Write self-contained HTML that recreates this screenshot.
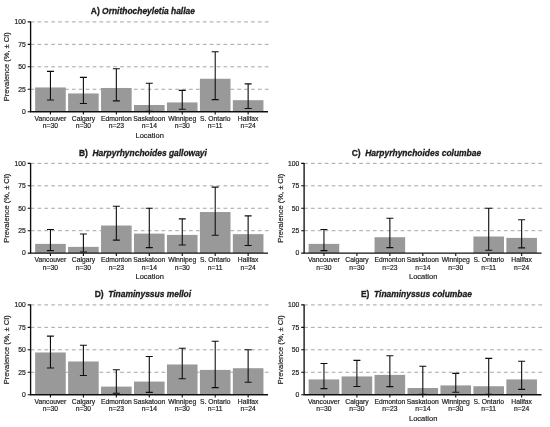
<!DOCTYPE html>
<html lang="en"><head><meta charset="utf-8"><title>Prevalence by location</title>
<style>html,body{margin:0;padding:0;background:#fff}body{width:550px;height:427px;overflow:hidden}svg{display:block}text{font-family:"Liberation Sans",Arial,sans-serif;fill:#1a1a1a;stroke:#1a1a1a;stroke-width:0.18px;paint-order:stroke}.m{stroke-width:0.3px}.t{font-size:6.75px;text-anchor:middle}.y{font-size:6.75px;text-anchor:end}.a{font-size:7.5px;text-anchor:middle}.m{font-size:8.45px;font-weight:bold;text-anchor:middle;white-space:pre}.m tspan{font-style:italic}</style></head><body>
<svg width="550" height="427" viewBox="0 0 550 427">
<rect width="550" height="427" fill="#ffffff"/>
<defs><filter id="b" x="0" y="0" width="550" height="427" filterUnits="userSpaceOnUse"><feGaussianBlur stdDeviation="0.3"/></filter></defs><g filter="url(#b)">
<g>
<line x1="30.60" y1="89.25" x2="268.80" y2="89.25" stroke="#a0a0a0" stroke-width="0.95" stroke-dasharray="3.7 3.19"/>
<line x1="30.60" y1="66.80" x2="268.80" y2="66.80" stroke="#a0a0a0" stroke-width="0.95" stroke-dasharray="3.7 3.19"/>
<line x1="30.60" y1="44.35" x2="268.80" y2="44.35" stroke="#a0a0a0" stroke-width="0.95" stroke-dasharray="3.7 3.19"/>
<line x1="30.60" y1="21.90" x2="268.80" y2="21.90" stroke="#a0a0a0" stroke-width="0.95" stroke-dasharray="3.7 3.19"/>
<rect x="35.15" y="87.45" width="30.60" height="24.25" fill="#999999"/>
<rect x="68.10" y="93.44" width="30.60" height="18.26" fill="#999999"/>
<rect x="101.05" y="87.97" width="30.60" height="23.73" fill="#999999"/>
<rect x="134.00" y="104.99" width="30.60" height="6.71" fill="#999999"/>
<rect x="166.95" y="102.42" width="30.60" height="9.28" fill="#999999"/>
<rect x="199.90" y="78.75" width="30.60" height="32.95" fill="#999999"/>
<rect x="232.85" y="100.18" width="30.60" height="11.53" fill="#999999"/>
<path d="M46.95 71.38H53.95M46.95 99.94H53.95M50.45 71.38V99.94" stroke="#111111" stroke-width="1.1" fill="none"/>
<path d="M79.90 77.40H86.90M79.90 103.53H86.90M83.40 77.40V103.53" stroke="#111111" stroke-width="1.1" fill="none"/>
<path d="M112.85 68.78H119.85M112.85 100.92H119.85M116.35 68.78V100.92" stroke="#111111" stroke-width="1.1" fill="none"/>
<path d="M145.80 83.23H152.80M145.80 111.34H152.80M149.30 83.23V111.34" stroke="#111111" stroke-width="1.1" fill="none"/>
<path d="M178.75 90.42H185.75M178.75 109.19H185.75M182.25 90.42V109.19" stroke="#111111" stroke-width="1.1" fill="none"/>
<path d="M211.70 51.80H218.70M211.70 99.58H218.70M215.20 51.80V99.58" stroke="#111111" stroke-width="1.1" fill="none"/>
<path d="M244.65 83.86H251.65M244.65 108.56H251.65M248.15 83.86V108.56" stroke="#111111" stroke-width="1.1" fill="none"/>
<path d="M30.60 21.50V111.70H268.00" stroke="#111111" stroke-width="1.35" fill="none" stroke-linejoin="miter"/>
<path d="M27.70 111.70H30.60M27.70 89.25H30.60M27.70 66.80H30.60M27.70 44.35H30.60M27.70 21.90H30.60M50.45 111.70V114.60M83.40 111.70V114.60M116.35 111.70V114.60M149.30 111.70V114.60M182.25 111.70V114.60M215.20 111.70V114.60M248.15 111.70V114.60" stroke="#111111" stroke-width="1.1" fill="none"/>
<text class="y" x="25.65" y="114.00">0</text>
<text class="y" x="25.65" y="91.55">25</text>
<text class="y" x="25.65" y="69.10">50</text>
<text class="y" x="25.65" y="46.65">75</text>
<text class="y" x="25.65" y="24.20">100</text>
<text class="t" x="50.45" y="120.75">Vancouver</text>
<text class="t" x="50.45" y="128.15">n=30</text>
<text class="t" x="83.40" y="120.75">Calgary</text>
<text class="t" x="83.40" y="128.15">n=30</text>
<text class="t" x="116.35" y="120.75">Edmonton</text>
<text class="t" x="116.35" y="128.15">n=23</text>
<text class="t" x="149.30" y="120.75">Saskatoon</text>
<text class="t" x="149.30" y="128.15">n=14</text>
<text class="t" x="182.25" y="120.75">Winnipeg</text>
<text class="t" x="182.25" y="128.15">n=30</text>
<text class="t" x="215.20" y="120.75">S. Ontario</text>
<text class="t" x="215.20" y="128.15">n=11</text>
<text class="t" x="248.15" y="120.75">Halifax</text>
<text class="t" x="248.15" y="128.15">n=24</text>
<text class="a" x="149.70" y="137.90">Location</text>
<text class="a" transform="translate(9.00 66.80) rotate(-90)">Prevalence (%, ± CI)</text>
<text class="m" x="142.90" y="14.30">A) <tspan>Ornithocheyletia hallae</tspan></text>
</g>
<g>
<line x1="30.60" y1="230.70" x2="268.80" y2="230.70" stroke="#a0a0a0" stroke-width="0.95" stroke-dasharray="3.7 3.19"/>
<line x1="30.60" y1="208.25" x2="268.80" y2="208.25" stroke="#a0a0a0" stroke-width="0.95" stroke-dasharray="3.7 3.19"/>
<line x1="30.60" y1="185.80" x2="268.80" y2="185.80" stroke="#a0a0a0" stroke-width="0.95" stroke-dasharray="3.7 3.19"/>
<line x1="30.60" y1="163.35" x2="268.80" y2="163.35" stroke="#a0a0a0" stroke-width="0.95" stroke-dasharray="3.7 3.19"/>
<rect x="35.15" y="243.87" width="30.60" height="9.28" fill="#999999"/>
<rect x="68.10" y="246.86" width="30.60" height="6.29" fill="#999999"/>
<rect x="101.05" y="225.52" width="30.60" height="27.63" fill="#999999"/>
<rect x="134.00" y="233.61" width="30.60" height="19.54" fill="#999999"/>
<rect x="166.95" y="234.89" width="30.60" height="18.26" fill="#999999"/>
<rect x="199.90" y="212.03" width="30.60" height="41.12" fill="#999999"/>
<rect x="232.85" y="234.14" width="30.60" height="19.01" fill="#999999"/>
<path d="M46.95 229.53H53.95M46.95 250.64H53.95M50.45 229.53V250.64" stroke="#111111" stroke-width="1.1" fill="none"/>
<path d="M79.90 234.02H86.90M79.90 252.07H86.90M83.40 234.02V252.07" stroke="#111111" stroke-width="1.1" fill="none"/>
<path d="M112.85 206.27H119.85M112.85 240.13H119.85M116.35 206.27V240.13" stroke="#111111" stroke-width="1.1" fill="none"/>
<path d="M145.80 208.25H152.80M145.80 247.67H152.80M149.30 208.25V247.67" stroke="#111111" stroke-width="1.1" fill="none"/>
<path d="M178.75 218.85H185.75M178.75 244.98H185.75M182.25 218.85V244.98" stroke="#111111" stroke-width="1.1" fill="none"/>
<path d="M211.70 187.15H218.70M211.70 235.19H218.70M215.20 187.15V235.19" stroke="#111111" stroke-width="1.1" fill="none"/>
<path d="M244.65 215.88H251.65M244.65 245.43H251.65M248.15 215.88V245.43" stroke="#111111" stroke-width="1.1" fill="none"/>
<path d="M30.60 162.95V253.15H268.00" stroke="#111111" stroke-width="1.35" fill="none" stroke-linejoin="miter"/>
<path d="M27.70 253.15H30.60M27.70 230.70H30.60M27.70 208.25H30.60M27.70 185.80H30.60M27.70 163.35H30.60M50.45 253.15V256.05M83.40 253.15V256.05M116.35 253.15V256.05M149.30 253.15V256.05M182.25 253.15V256.05M215.20 253.15V256.05M248.15 253.15V256.05" stroke="#111111" stroke-width="1.1" fill="none"/>
<text class="y" x="25.65" y="255.45">0</text>
<text class="y" x="25.65" y="233.00">25</text>
<text class="y" x="25.65" y="210.55">50</text>
<text class="y" x="25.65" y="188.10">75</text>
<text class="y" x="25.65" y="165.65">100</text>
<text class="t" x="50.45" y="262.20">Vancouver</text>
<text class="t" x="50.45" y="269.60">n=30</text>
<text class="t" x="83.40" y="262.20">Calgary</text>
<text class="t" x="83.40" y="269.60">n=30</text>
<text class="t" x="116.35" y="262.20">Edmonton</text>
<text class="t" x="116.35" y="269.60">n=23</text>
<text class="t" x="149.30" y="262.20">Saskatoon</text>
<text class="t" x="149.30" y="269.60">n=14</text>
<text class="t" x="182.25" y="262.20">Winnipeg</text>
<text class="t" x="182.25" y="269.60">n=30</text>
<text class="t" x="215.20" y="262.20">S. Ontario</text>
<text class="t" x="215.20" y="269.60">n=11</text>
<text class="t" x="248.15" y="262.20">Halifax</text>
<text class="t" x="248.15" y="269.60">n=24</text>
<text class="a" x="149.70" y="279.35">Location</text>
<text class="a" transform="translate(9.00 208.25) rotate(-90)">Prevalence (%, ± CI)</text>
<text class="m" x="142.90" y="155.75">B)  <tspan>Harpyrhynchoides gallowayi</tspan></text>
</g>
<g>
<line x1="304.10" y1="230.70" x2="542.30" y2="230.70" stroke="#a0a0a0" stroke-width="0.95" stroke-dasharray="3.7 3.19"/>
<line x1="304.10" y1="208.25" x2="542.30" y2="208.25" stroke="#a0a0a0" stroke-width="0.95" stroke-dasharray="3.7 3.19"/>
<line x1="304.10" y1="185.80" x2="542.30" y2="185.80" stroke="#a0a0a0" stroke-width="0.95" stroke-dasharray="3.7 3.19"/>
<line x1="304.10" y1="163.35" x2="542.30" y2="163.35" stroke="#a0a0a0" stroke-width="0.95" stroke-dasharray="3.7 3.19"/>
<rect x="308.65" y="243.87" width="30.60" height="9.28" fill="#999999"/>
<rect x="374.55" y="237.23" width="30.60" height="15.92" fill="#999999"/>
<rect x="473.40" y="236.52" width="30.60" height="16.63" fill="#999999"/>
<rect x="506.35" y="237.88" width="30.60" height="15.27" fill="#999999"/>
<path d="M320.45 229.53H327.45M320.45 250.64H327.45M323.95 229.53V250.64" stroke="#111111" stroke-width="1.1" fill="none"/>
<path d="M386.35 218.22H393.35M386.35 247.58H393.35M389.85 218.22V247.58" stroke="#111111" stroke-width="1.1" fill="none"/>
<path d="M485.20 208.25H492.20M485.20 250.19H492.20M488.70 208.25V250.19" stroke="#111111" stroke-width="1.1" fill="none"/>
<path d="M518.15 219.74H525.15M518.15 247.85H525.15M521.65 219.74V247.85" stroke="#111111" stroke-width="1.1" fill="none"/>
<path d="M304.10 162.95V253.15H541.50" stroke="#111111" stroke-width="1.35" fill="none" stroke-linejoin="miter"/>
<path d="M301.20 253.15H304.10M301.20 230.70H304.10M301.20 208.25H304.10M301.20 185.80H304.10M301.20 163.35H304.10M323.95 253.15V256.05M356.90 253.15V256.05M389.85 253.15V256.05M422.80 253.15V256.05M455.75 253.15V256.05M488.70 253.15V256.05M521.65 253.15V256.05" stroke="#111111" stroke-width="1.1" fill="none"/>
<text class="y" x="299.15" y="255.45">0</text>
<text class="y" x="299.15" y="233.00">25</text>
<text class="y" x="299.15" y="210.55">50</text>
<text class="y" x="299.15" y="188.10">75</text>
<text class="y" x="299.15" y="165.65">100</text>
<text class="t" x="323.95" y="262.20">Vancouver</text>
<text class="t" x="323.95" y="269.60">n=30</text>
<text class="t" x="356.90" y="262.20">Calgary</text>
<text class="t" x="356.90" y="269.60">n=30</text>
<text class="t" x="389.85" y="262.20">Edmonton</text>
<text class="t" x="389.85" y="269.60">n=23</text>
<text class="t" x="422.80" y="262.20">Saskatoon</text>
<text class="t" x="422.80" y="269.60">n=14</text>
<text class="t" x="455.75" y="262.20">Winnipeg</text>
<text class="t" x="455.75" y="269.60">n=30</text>
<text class="t" x="488.70" y="262.20">S. Ontario</text>
<text class="t" x="488.70" y="269.60">n=11</text>
<text class="t" x="521.65" y="262.20">Halifax</text>
<text class="t" x="521.65" y="269.60">n=24</text>
<text class="a" x="423.20" y="279.35">Location</text>
<text class="a" transform="translate(282.50 208.25) rotate(-90)">Prevalence (%, ± CI)</text>
<text class="m" x="416.40" y="155.75">C)  <tspan>Harpyrhynchoides columbae</tspan></text>
</g>
<g>
<line x1="30.60" y1="372.25" x2="268.80" y2="372.25" stroke="#a0a0a0" stroke-width="0.95" stroke-dasharray="3.7 3.19"/>
<line x1="30.60" y1="349.80" x2="268.80" y2="349.80" stroke="#a0a0a0" stroke-width="0.95" stroke-dasharray="3.7 3.19"/>
<line x1="30.60" y1="327.35" x2="268.80" y2="327.35" stroke="#a0a0a0" stroke-width="0.95" stroke-dasharray="3.7 3.19"/>
<line x1="30.60" y1="304.90" x2="268.80" y2="304.90" stroke="#a0a0a0" stroke-width="0.95" stroke-dasharray="3.7 3.19"/>
<rect x="35.15" y="352.49" width="30.60" height="42.21" fill="#999999"/>
<rect x="68.10" y="361.47" width="30.60" height="33.23" fill="#999999"/>
<rect x="101.05" y="386.59" width="30.60" height="8.11" fill="#999999"/>
<rect x="134.00" y="381.57" width="30.60" height="13.13" fill="#999999"/>
<rect x="166.95" y="364.47" width="30.60" height="30.23" fill="#999999"/>
<rect x="199.90" y="369.91" width="30.60" height="24.79" fill="#999999"/>
<rect x="232.85" y="368.21" width="30.60" height="26.49" fill="#999999"/>
<path d="M46.95 336.15H53.95M46.95 367.94H53.95M50.45 336.15V367.94" stroke="#111111" stroke-width="1.1" fill="none"/>
<path d="M79.90 345.31H86.90M79.90 375.48H86.90M83.40 345.31V375.48" stroke="#111111" stroke-width="1.1" fill="none"/>
<path d="M112.85 369.74H119.85M112.85 393.26H119.85M116.35 369.74V393.26" stroke="#111111" stroke-width="1.1" fill="none"/>
<path d="M145.80 356.45H152.80M145.80 392.37H152.80M149.30 356.45V392.37" stroke="#111111" stroke-width="1.1" fill="none"/>
<path d="M178.75 348.27H185.75M178.75 378.81H185.75M182.25 348.27V378.81" stroke="#111111" stroke-width="1.1" fill="none"/>
<path d="M211.70 341.18H218.70M211.70 387.61H218.70M215.20 341.18V387.61" stroke="#111111" stroke-width="1.1" fill="none"/>
<path d="M244.65 349.80H251.65M244.65 382.22H251.65M248.15 349.80V382.22" stroke="#111111" stroke-width="1.1" fill="none"/>
<path d="M30.60 304.50V394.70H268.00" stroke="#111111" stroke-width="1.35" fill="none" stroke-linejoin="miter"/>
<path d="M27.70 394.70H30.60M27.70 372.25H30.60M27.70 349.80H30.60M27.70 327.35H30.60M27.70 304.90H30.60M50.45 394.70V397.60M83.40 394.70V397.60M116.35 394.70V397.60M149.30 394.70V397.60M182.25 394.70V397.60M215.20 394.70V397.60M248.15 394.70V397.60" stroke="#111111" stroke-width="1.1" fill="none"/>
<text class="y" x="25.65" y="397.00">0</text>
<text class="y" x="25.65" y="374.55">25</text>
<text class="y" x="25.65" y="352.10">50</text>
<text class="y" x="25.65" y="329.65">75</text>
<text class="y" x="25.65" y="307.20">100</text>
<text class="t" x="50.45" y="403.75">Vancouver</text>
<text class="t" x="50.45" y="411.15">n=30</text>
<text class="t" x="83.40" y="403.75">Calgary</text>
<text class="t" x="83.40" y="411.15">n=30</text>
<text class="t" x="116.35" y="403.75">Edmonton</text>
<text class="t" x="116.35" y="411.15">n=23</text>
<text class="t" x="149.30" y="403.75">Saskatoon</text>
<text class="t" x="149.30" y="411.15">n=14</text>
<text class="t" x="182.25" y="403.75">Winnipeg</text>
<text class="t" x="182.25" y="411.15">n=30</text>
<text class="t" x="215.20" y="403.75">S. Ontario</text>
<text class="t" x="215.20" y="411.15">n=11</text>
<text class="t" x="248.15" y="403.75">Halifax</text>
<text class="t" x="248.15" y="411.15">n=24</text>
<text class="a" transform="translate(9.00 349.80) rotate(-90)">Prevalence (%, ± CI)</text>
<text class="m" x="142.90" y="297.30">D)  <tspan>Tinaminyssus melloi</tspan></text>
</g>
<g>
<line x1="304.10" y1="372.25" x2="542.30" y2="372.25" stroke="#a0a0a0" stroke-width="0.95" stroke-dasharray="3.7 3.19"/>
<line x1="304.10" y1="349.80" x2="542.30" y2="349.80" stroke="#a0a0a0" stroke-width="0.95" stroke-dasharray="3.7 3.19"/>
<line x1="304.10" y1="327.35" x2="542.30" y2="327.35" stroke="#a0a0a0" stroke-width="0.95" stroke-dasharray="3.7 3.19"/>
<line x1="304.10" y1="304.90" x2="542.30" y2="304.90" stroke="#a0a0a0" stroke-width="0.95" stroke-dasharray="3.7 3.19"/>
<rect x="308.65" y="379.43" width="30.60" height="15.27" fill="#999999"/>
<rect x="341.60" y="376.44" width="30.60" height="18.26" fill="#999999"/>
<rect x="374.55" y="374.88" width="30.60" height="19.82" fill="#999999"/>
<rect x="407.50" y="387.99" width="30.60" height="6.71" fill="#999999"/>
<rect x="440.45" y="385.42" width="30.60" height="9.28" fill="#999999"/>
<rect x="473.40" y="386.24" width="30.60" height="8.46" fill="#999999"/>
<rect x="506.35" y="379.43" width="30.60" height="15.27" fill="#999999"/>
<path d="M320.45 363.45H327.45M320.45 388.59H327.45M323.95 363.45V388.59" stroke="#111111" stroke-width="1.1" fill="none"/>
<path d="M353.40 360.40H360.40M353.40 386.53H360.40M356.90 360.40V386.53" stroke="#111111" stroke-width="1.1" fill="none"/>
<path d="M386.35 355.82H393.35M386.35 386.62H393.35M389.85 355.82V386.62" stroke="#111111" stroke-width="1.1" fill="none"/>
<path d="M419.30 366.23H426.30M419.30 394.34H426.30M422.80 366.23V394.34" stroke="#111111" stroke-width="1.1" fill="none"/>
<path d="M452.25 373.42H459.25M452.25 392.19H459.25M455.75 373.42V392.19" stroke="#111111" stroke-width="1.1" fill="none"/>
<path d="M485.20 358.42H492.20M485.20 394.25H492.20M488.70 358.42V394.25" stroke="#111111" stroke-width="1.1" fill="none"/>
<path d="M518.15 361.29H525.15M518.15 389.40H525.15M521.65 361.29V389.40" stroke="#111111" stroke-width="1.1" fill="none"/>
<path d="M304.10 304.50V394.70H541.50" stroke="#111111" stroke-width="1.35" fill="none" stroke-linejoin="miter"/>
<path d="M301.20 394.70H304.10M301.20 372.25H304.10M301.20 349.80H304.10M301.20 327.35H304.10M301.20 304.90H304.10M323.95 394.70V397.60M356.90 394.70V397.60M389.85 394.70V397.60M422.80 394.70V397.60M455.75 394.70V397.60M488.70 394.70V397.60M521.65 394.70V397.60" stroke="#111111" stroke-width="1.1" fill="none"/>
<text class="y" x="299.15" y="397.00">0</text>
<text class="y" x="299.15" y="374.55">25</text>
<text class="y" x="299.15" y="352.10">50</text>
<text class="y" x="299.15" y="329.65">75</text>
<text class="y" x="299.15" y="307.20">100</text>
<text class="t" x="323.95" y="403.75">Vancouver</text>
<text class="t" x="323.95" y="411.15">n=30</text>
<text class="t" x="356.90" y="403.75">Calgary</text>
<text class="t" x="356.90" y="411.15">n=30</text>
<text class="t" x="389.85" y="403.75">Edmonton</text>
<text class="t" x="389.85" y="411.15">n=23</text>
<text class="t" x="422.80" y="403.75">Saskatoon</text>
<text class="t" x="422.80" y="411.15">n=14</text>
<text class="t" x="455.75" y="403.75">Winnipeg</text>
<text class="t" x="455.75" y="411.15">n=30</text>
<text class="t" x="488.70" y="403.75">S. Ontario</text>
<text class="t" x="488.70" y="411.15">n=11</text>
<text class="t" x="521.65" y="403.75">Halifax</text>
<text class="t" x="521.65" y="411.15">n=24</text>
<text class="a" x="423.20" y="420.90">Location</text>
<text class="a" transform="translate(282.50 349.80) rotate(-90)">Prevalence (%, ± CI)</text>
<text class="m" x="416.40" y="297.30">E)  <tspan>Tinaminyssus columbae</tspan></text>
</g>
</g>
</svg></body></html>
